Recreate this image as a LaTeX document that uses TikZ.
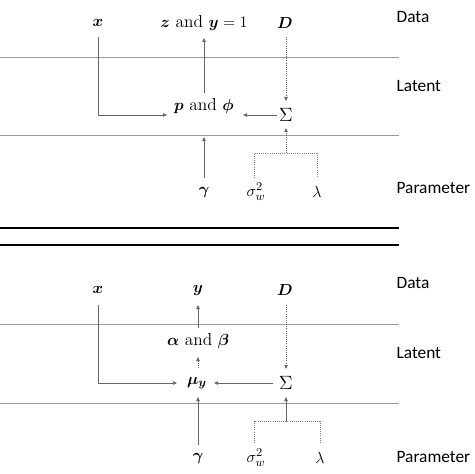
\documentclass[tikz,border=0pt]{standalone}
\usepackage{amsmath,amssymb,bm}
\usepackage{fontspec}
\newfontfamily\lblfont{Carlito}
\usetikzlibrary{arrows.meta}
\begin{document}
\begin{tikzpicture}[x=0.75pt,y=-0.75pt,
  every node/.style={inner sep=1pt,font=\fontsize{13}{15}\selectfont},
  lbl/.style={anchor=west,font=\lblfont\fontsize{13}{15}\selectfont},
  sumnode/.style={font=\fontsize{15}{17}\selectfont},
  sep/.style={draw=black!40,line width=0.5pt},
  thick sep/.style={draw=black,line width=1.6pt},
  arr/.style={draw=black!60,line width=0.6pt,-{Triangle[length=3pt,width=2.6pt]}},
  darr/.style={arr,densely dotted},
  dln/.style={draw=black!50,line width=0.6pt,densely dotted}]
\useasboundingbox (0,0) rectangle (474,474);
% ---------- top panel
\coordinate (l1a) at (0,57); \coordinate (l1b) at (399,57);
\coordinate (l2a) at (0,135); \coordinate (l2b) at (399,135);
\draw[sep] (l1a) -- (l1b);
\draw[sep] (l2a) -- (l2b);
\node[lbl] (data1) at (395,17) {Data};
\node[lbl] (lat1) at (395,86) {Latent};
\node[lbl] (par1) at (395,188) {Parameter};
\node (x1) at (98,23) {$\bm{x}$};
\node (zy1) at (204,23) {$\bm{z}\ \mathrm{and}\ \bm{y}=1$};
\node (D1) at (285,23) {$\bm{D}$};
\node (pphi) at (204,106) {$\bm{p}\ \mathrm{and}\ \bm{\phi}$};
\node[sumnode] (S1) at (286,115) {$\Sigma$};
\node (g1) at (204,192) {$\bm{\gamma}$};
\node (s1) at (256,192) {$\sigma_w^2$};
\node (lam1) at (317,192) {$\lambda$};
\coordinate (x1s) at (98,37);
\coordinate (pin1) at (167,115);
\coordinate (zy1s) at (204,38);
\coordinate (pphin) at (204,93);
\coordinate (pphie) at (243,115);
\coordinate (S1w) at (277,115);
\coordinate (D1s) at (286,37);
\coordinate (S1n) at (286,101);
\coordinate (g1n) at (204,178);
\coordinate (l2in) at (204,137);
\coordinate (b1) at (286,153);
\coordinate (S1s) at (286,128);
\coordinate (s1n) at (254,178);
\coordinate (lam1n) at (317,178);
\draw[arr] (x1s) |- (pin1);
\draw[arr] (pphin) -- (zy1s);
\draw[arr] (S1w) -- (pphie);
\draw[darr] (D1s) -- (S1n);
\draw[arr] (g1n) -- (l2in);
\draw[dln] (s1n) |- (b1) -| (lam1n);
\draw[darr] (b1) -- (S1s);
% thick separators
\coordinate (t1a) at (0,228); \coordinate (t1b) at (399,228);
\coordinate (t2a) at (0,245); \coordinate (t2b) at (399,245);
\draw[thick sep] (t1a) -- (t1b);
\draw[thick sep] (t2a) -- (t2b);
% ---------- bottom panel
\coordinate (l3a) at (0,324); \coordinate (l3b) at (399,324);
\coordinate (l4a) at (0,403); \coordinate (l4b) at (399,403);
\draw[sep] (l3a) -- (l3b);
\draw[sep] (l4a) -- (l4b);
\node[lbl] (data2) at (395,283) {Data};
\node[lbl] (lat2) at (395,353) {Latent};
\node[lbl] (par2) at (395,457) {Parameter};
\node (x2) at (98,290) {$\bm{x}$};
\node (y2) at (198,290) {$\bm{y}$};
\node (D2) at (285,290) {$\bm{D}$};
\node (ab) at (198,341) {$\bm{\alpha}\ \mathrm{and}\ \bm{\beta}$};
\node (mu) at (197,383) {$\bm{\mu_y}$};
\node[sumnode] (S2) at (286,383) {$\Sigma$};
\node (g2) at (198,458) {$\bm{\gamma}$};
\node (s2) at (256,458) {$\sigma_w^2$};
\node (lam2) at (320,458) {$\lambda$};
\coordinate (x2s) at (98,305);
\coordinate (muw) at (177,383);
\coordinate (abn) at (198,328);
\coordinate (y2s) at (198,305);
\coordinate (mun) at (198,368);
\coordinate (abs) at (198,357);
\coordinate (S2w) at (273,383);
\coordinate (mue) at (214,383);
\coordinate (D2s) at (286,305);
\coordinate (S2n) at (286,369);
\coordinate (g2n) at (198,445);
\coordinate (mus) at (198,397);
\coordinate (b2) at (286,421);
\coordinate (S2s) at (286,397);
\coordinate (s2n) at (254,443);
\coordinate (lam2n) at (320,443);
\draw[arr] (x2s) |- (muw);
\draw[arr] (abn) -- (y2s);
\draw[darr] (mun) -- (abs);
\draw[arr] (S2w) -- (mue);
\draw[darr] (D2s) -- (S2n);
\draw[arr] (g2n) -- (mus);
\draw[dln] (s2n) |- (b2) -| (lam2n);
\draw[arr] (b2) -- (S2s);
\end{tikzpicture}
\end{document}
